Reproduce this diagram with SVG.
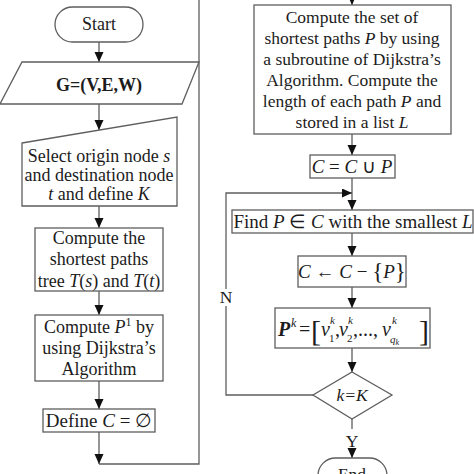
<svg xmlns="http://www.w3.org/2000/svg" width="474" height="474" viewBox="0 0 474 474">
<style>
.s{fill:#fff;stroke:#5e5e5e;stroke-width:1.3}
.c{fill:none;stroke:#5e5e5e;stroke-width:1.3}
.i{font-style:italic}
.L{font-size:18px}
</style>
<defs>
<marker id="ah" markerUnits="userSpaceOnUse" markerWidth="10" markerHeight="10" refX="10" refY="4.5" orient="auto">
<path d="M0,0 L10,4.5 L0,9 z" fill="#111"/>
</marker>
</defs>
<rect width="474" height="474" fill="#fff"/>
<g font-family="'Liberation Serif', 'Times New Roman', serif" font-size="17.5" fill="#1c1c1c" text-anchor="middle">
<g id="connectors">
<path class="c" d="M99,42 V62" marker-end="url(#ah)"/>
<path class="c" d="M99,104 V130" marker-end="url(#ah)"/>
<path class="c" d="M99,206 V228" marker-end="url(#ah)"/>
<path class="c" d="M99,291 V315" marker-end="url(#ah)"/>
<path class="c" d="M99,381 V409" marker-end="url(#ah)"/>
<path class="c" d="M99,432 V464" marker-end="url(#ah)"/>
<path class="c" d="M99,464 H199 V0"/>
<path class="c" d="M352,-10 V5" marker-end="url(#ah)"/>
<path class="c" d="M352,134 V155" marker-end="url(#ah)"/>
<path class="c" d="M352,178 V210" marker-end="url(#ah)"/>
<path class="c" d="M313,395 H226 V306"/>
<path class="c" d="M226,289 V193 H352" marker-end="url(#ah)"/>
<text x="226" y="303">N</text>
<path class="c" d="M352,233 V256" marker-end="url(#ah)"/>
<path class="c" d="M352,287 V308" marker-end="url(#ah)"/>
<path class="c" d="M352,348 V372" marker-end="url(#ah)"/>
<path class="c" d="M352,419 V429"/>
<text x="352" y="447">Y</text>
<path class="c" d="M352,449 V458" marker-end="url(#ah)"/>
</g>
<g id="start">
<rect class="s" x="55" y="7" width="88" height="35" rx="17.5"/>
<text class="L" x="99" y="30">Start</text>
</g>
<g id="input">
<polygon class="s" points="22,62 199,62 182,104 0,104"/>
<text class="L" x="99" y="91" font-weight="bold">G=(V,E,W)</text>
</g>
<g id="select">
<polygon class="s" points="22,143 177,117 177,206 22,206"/>
<text class="L" x="99" y="162">Select origin node <tspan class="i">s</tspan></text>
<text class="L" x="99" y="181">and destination node</text>
<text class="L" x="99" y="200"><tspan class="i">t</tspan> and define <tspan class="i">K</tspan></text>
</g>
<g id="tree">
<rect class="s" x="35" y="228" width="128" height="63"/>
<text class="L" x="99" y="244">Compute the</text>
<text class="L" x="99" y="265">shortest paths</text>
<text class="L" x="99" y="287">tree <tspan class="i">T</tspan>(<tspan class="i">s</tspan>) and <tspan class="i">T</tspan>(<tspan class="i">t</tspan>)</text>
</g>
<g id="p1">
<rect class="s" x="35" y="315" width="128" height="66"/>
<text class="L" x="99" y="333">Compute <tspan class="i">P</tspan><tspan font-size="12" dy="-7">1</tspan><tspan dy="7"> by</tspan></text>
<text class="L" x="99" y="354">using Dijkstra’s</text>
<text class="L" x="99" y="375">Algorithm</text>
</g>
<g id="defineC">
<rect class="s" x="43" y="409" width="112" height="23"/>
<text font-size="19" x="99" y="427">Define <tspan class="i">C</tspan> = ∅</text>
</g>
<g id="compute">
<rect class="s" x="254" y="5" width="197" height="129"/>
<text x="352" y="23">Compute the set of</text>
<text x="352" y="44">shortest paths <tspan class="i">P</tspan> by using</text>
<text x="352" y="65">a subroutine of Dijkstra’s</text>
<text x="352" y="86">Algorithm. Compute the</text>
<text x="352" y="107">length of each path <tspan class="i">P</tspan> and</text>
<text x="352" y="128">stored in a list <tspan class="i">L</tspan></text>
</g>
<g id="union">
<rect class="s" x="310" y="155" width="85" height="23"/>
<text font-size="19" x="352" y="173"><tspan class="i">C</tspan> = <tspan class="i">C</tspan> ∪ <tspan class="i">P</tspan></text>
</g>
<g id="find">
<rect class="s" x="232" y="210" width="241" height="23"/>
<text font-size="19" x="353" y="228">Find <tspan class="i">P</tspan> ∈ <tspan class="i">C</tspan> with the smallest <tspan class="i">L</tspan></text>
</g>
<g id="remove">
<rect class="s" x="298" y="256" width="108" height="31"/>
<text font-size="19" x="352" y="278"><tspan class="i">C</tspan> ← <tspan class="i">C</tspan> − <tspan font-size="23" dy="1">{</tspan><tspan class="i" dy="-1">P</tspan><tspan font-size="23" dy="1">}</tspan></text>
</g>
<g id="pk" text-anchor="start">
<rect class="s" x="275" y="308" width="155" height="40"/>
<text x="278" y="336" font-size="20" font-weight="bold" font-style="italic">P</text>
<text x="291" y="327" font-size="12" class="i">k</text>
<text x="299" y="336" font-size="20">=</text>
<text x="311" y="341" font-size="30">[</text>
<text x="321" y="336" font-size="20" class="i">v</text>
<text x="330" y="324" font-size="11" class="i">k</text>
<text x="329" y="342" font-size="11">1</text>
<text x="335" y="336" font-size="20">,</text>
<text x="339" y="336" font-size="20" class="i">v</text>
<text x="348" y="324" font-size="11" class="i">k</text>
<text x="347" y="342" font-size="11">2</text>
<text x="353" y="336" font-size="20">,...,</text>
<text x="382" y="336" font-size="20" class="i">v</text>
<text x="392" y="324" font-size="11" class="i">k</text>
<text x="390" y="343" font-size="11" class="i">q<tspan font-size="8" dy="2">k</tspan></text>
<text x="419" y="341" font-size="30">]</text>
</g>
<g id="decision">
<polygon class="s" points="352,372 392,395 352,419 313,395"/>
<text class="i" x="352" y="401">k=K</text>
</g>
<g id="end">
<rect class="s" x="318" y="458" width="69" height="35" rx="17.5"/>
<text x="352" y="480">End</text>
</g>
</g>
</svg>
